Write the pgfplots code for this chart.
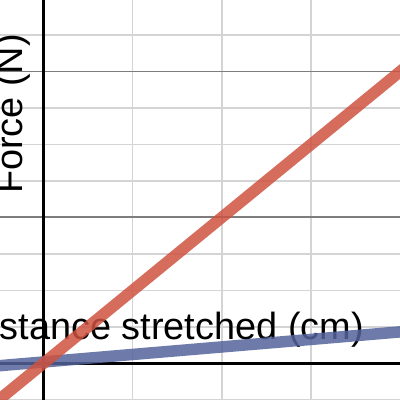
\documentclass[border=0pt]{standalone}
\usepackage{fontspec}
\setmainfont{Liberation Sans}
\usepackage{pgfplots}
\pgfplotsset{compat=1.18}

\definecolor{springred}{RGB}{206,82,64}
\definecolor{springblue}{RGB}{84,99,155}
\definecolor{minorgrid}{RGB}{212,212,212}
\definecolor{majorgrid}{RGB}{125,125,125}

\begin{document}
\begin{tikzpicture}
\useasboundingbox (0,0) rectangle (400bp,400bp);
\begin{axis}[
  at={(0,0)}, anchor=south west,
  scale only axis,
  width=400bp, height=400bp,
  xmin=-0.244, xmax=1.998,
  ymin=-5.03, ymax=49.77,
  axis lines=middle,
  axis line style={-, black, line width=3.2bp},
  xtick={-0.5,0,0.5,1,1.5,2},
  xticklabels={},
  ytick={0,20,40},
  minor ytick={-5,5,10,15,25,30,35,45},
  yticklabels={},
  tick style={draw=none},
  grid=both,
  major x grid style={minorgrid, line width=1.5bp},
  minor grid style={minorgrid, line width=1.5bp},
  major y grid style={majorgrid, line width=1.6bp},
]
%% axis titles sit under the lines
\node[anchor=base, inner sep=0pt, font=\fontsize{38}{44}\selectfont]
  at (axis cs:0.675,3.19) {Distance stretched (cm)};
\node[anchor=base, rotate=90, inner sep=0pt, font=\fontsize{38}{44}\selectfont]
  at (axis cs:-0.118,34.15) {Force (N)};
%% stiff spring
\addplot[springblue, opacity=0.85, line width=11.5bp] coordinates {(-0.3,-0.44) (2.1,4.51)};
%% soft spring
\addplot[springred, opacity=0.85, line width=11.5bp] coordinates {(-0.3,-6) (2.1,42)};
\end{axis}
\end{tikzpicture}
\end{document}
